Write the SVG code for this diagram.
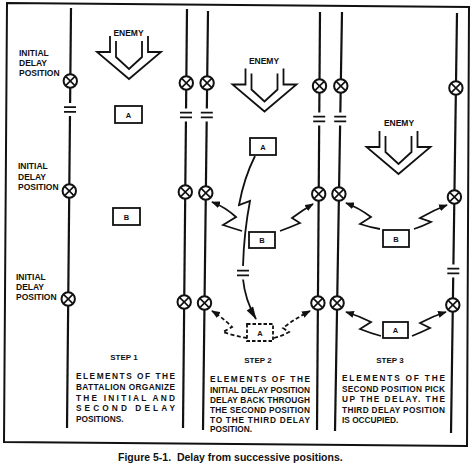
<svg xmlns="http://www.w3.org/2000/svg" width="474" height="469" viewBox="0 0 474 469">
<style>
.ln{stroke:#111;stroke-width:2.2;fill:none}
.fr{stroke:#111;stroke-width:2;fill:none}
.bolt{stroke:#111;stroke-width:1.8;fill:none;marker-end:url(#ah)}
.dash{stroke-dasharray:4 2.5}
.box{fill:#fff;stroke:#111;stroke-width:1.8}
.dbox{fill:#fff;stroke:#111;stroke-width:1.8;stroke-dasharray:3.5 2}
.en{fill:none;stroke:#111;stroke-width:1.8;stroke-linejoin:miter}
.t{font-family:"Liberation Sans",Arial,Helvetica,sans-serif;font-weight:bold;fill:#111}
.lab{font-size:8.5px}
.bx{font-size:7.5px;text-anchor:middle}
.st{font-size:8px;text-anchor:middle}
.p{font-size:8.3px}
.cap{font-size:10.5px}
</style>
<defs>
<marker id="ah" viewBox="0 0 10 8" refX="9" refY="4" markerWidth="9" markerHeight="7" orient="auto" markerUnits="userSpaceOnUse"><path d="M0,0 L10,4 L0,8 z" fill="#111"/></marker>
<marker id="ahL" viewBox="0 0 14 8" refX="13" refY="4" markerWidth="14" markerHeight="7.5" orient="auto" markerUnits="userSpaceOnUse"><path d="M0,0 L14,4 L0,8 z" fill="#111"/></marker>
<g id="xc"><circle r="6.7" fill="#fff" stroke="#111" stroke-width="2"/><path d="M-4.4,-4.4L4.4,4.4M-4.4,4.4L4.4,-4.4" stroke="#111" stroke-width="1.6"/></g>
<g id="brk"><rect x="-7" y="-6.5" width="14" height="13" fill="#fff"/><path d="M-6,-2.4H6M-6,2.4H6" stroke="#111" stroke-width="1.8"/></g>
<g id="enemy"><path class="en" d="M-19,-16V0H-32L0,27L32,0H19V-16"/><path class="en" d="M-13,-11V5L0,17L13,5V-11"/></g>
</defs>

<polygon class="fr" points="7,3 469,7 467,446 4,442"/>

<g id="line1"><line class="ln" x1="71" y1="8" x2="67" y2="428"/><use href="#brk" x="70" y="109.5"/><use href="#xc" x="70.3" y="81"/><use href="#xc" x="69.3" y="191"/><use href="#xc" x="68.2" y="299"/></g>
<g id="line2"><line class="ln" x1="187" y1="9" x2="183" y2="428"/><use href="#brk" x="186" y="115"/><use href="#xc" x="186.3" y="83"/><use href="#xc" x="185.3" y="192"/><use href="#xc" x="184.2" y="302"/></g>
<g id="line3"><line class="ln" x1="208" y1="11" x2="203" y2="430"/><use href="#brk" x="206.8" y="115"/><use href="#xc" x="207.1" y="83"/><use href="#xc" x="205.8" y="193"/><use href="#xc" x="204.5" y="303"/></g>
<g id="line4"><line class="ln" x1="320" y1="12" x2="317" y2="430"/><use href="#brk" x="319.2" y="119"/><use href="#xc" x="319.5" y="86"/><use href="#xc" x="318.7" y="194"/><use href="#xc" x="317.9" y="303"/></g>
<g id="line5"><line class="ln" x1="342" y1="12" x2="335" y2="431"/><use href="#brk" x="340.2" y="119"/><use href="#xc" x="340.8" y="86"/><use href="#xc" x="338.9" y="194"/><use href="#xc" x="337.1" y="303"/></g>
<g id="line6"><line class="ln" x1="457" y1="13" x2="451" y2="433"/><use href="#brk" x="453.3" y="271"/><use href="#xc" x="455.9" y="88"/><use href="#xc" x="454.4" y="197"/><use href="#xc" x="452.8" y="305"/></g>

<g id="labels">
<text class="t lab" x="19" y="55.5">INITIAL</text>
<text class="t lab" x="19" y="65.5">DELAY</text>
<text class="t lab" x="19" y="75.5">POSITION</text>
<text class="t lab" x="18" y="169">INITIAL</text>
<text class="t lab" x="18" y="179.5">DELAY</text>
<text class="t lab" x="18" y="190">POSITION</text>
<text class="t lab" x="16" y="280">INITIAL</text>
<text class="t lab" x="16" y="290">DELAY</text>
<text class="t lab" x="16" y="300">POSITION</text>
</g>

<g id="connectors">
<path class="bolt" style="marker-end:none" d="M255,156 Q244,178 239,205 L250,201 Q244,232 243,266"/>
<path class="bolt" style="marker-end:url(#ahL)" d="M243,279 Q245,300 256,319"/>
<use href="#brk" x="243" y="273"/>
<path class="bolt" d="M242,231 Q232,228 223,225 L236,217 Q225,207 212,202"/>
<path class="bolt" d="M280,231 Q291,227 300,223 L292,218 Q303,210 313,204"/>
<path class="bolt dash" d="M247,338 Q235,336 223,332 L232,327 Q222,317 212,311"/>
<path class="bolt dash" d="M274,338 Q282,336 289,332 L283,328 Q296,318 310,311"/>
<path class="bolt" d="M380,229 Q369,227 360,224 L371,217 Q359,208 346,203"/>
<path class="bolt" d="M414,229 Q423,226 431,222 L420,218 Q434,210 447,205"/>
<path class="bolt" d="M381,336 Q370,333 360,329 L371,322 Q359,316 346,312"/>
<path class="bolt" d="M412,336 Q422,332 430,328 L420,323 Q433,316 446,312"/>
</g>

<g id="enemy1"><text class="t bx" style="font-size:8.5px" x="128.5" y="36">ENEMY</text><use href="#enemy" x="129" y="52"/></g>
<g id="enemy2"><text class="t bx" style="font-size:8.5px" x="264" y="64">ENEMY</text><use href="#enemy" x="264.5" y="84.5"/></g>
<g id="enemy3"><text class="t bx" style="font-size:8.5px" x="399" y="126">ENEMY</text><use href="#enemy" x="398.5" y="147"/></g>

<g id="unitA1"><rect class="box" x="115" y="106" width="27" height="17"/><text class="t bx" x="128.5" y="117.5">A</text></g>
<g id="unitB1"><rect class="box" x="113" y="208" width="27" height="17"/><text class="t bx" x="126.5" y="219.5">B</text></g>
<g id="unitA2"><rect class="box" x="250" y="138" width="26" height="17"/><text class="t bx" x="263" y="149.5">A</text></g>
<g id="unitB2"><rect class="box" x="249" y="232" width="26" height="16"/><text class="t bx" x="262" y="243">B</text></g>
<g id="unitA2new"><rect class="dbox" x="247" y="324" width="26" height="17"/><text class="t bx" x="260" y="335.5">A</text></g>
<g id="unitB3"><rect class="box" x="383" y="230" width="26" height="17"/><text class="t bx" x="396" y="241.5">B</text></g>
<g id="unitA3"><rect class="box" x="383" y="322" width="25" height="16"/><text class="t bx" x="395.5" y="333">A</text></g>

<g id="step1">
<text class="t st" x="124" y="359.5">STEP 1</text>
<text class="t p" x="76" y="379" textLength="99" lengthAdjust="spacing">ELEMENTS OF THE</text>
<text class="t p" x="76" y="390" textLength="99" lengthAdjust="spacing">BATTALION ORGANIZE</text>
<text class="t p" x="76" y="400.5" textLength="99" lengthAdjust="spacing">THE INITIAL AND</text>
<text class="t p" x="76" y="411" textLength="99" lengthAdjust="spacing">SECOND DELAY</text>
<text class="t p" x="76" y="421.5">POSITIONS.</text>
</g>
<g id="step2">
<text class="t st" x="258" y="362.5">STEP 2</text>
<text class="t p" x="210" y="382" textLength="100" lengthAdjust="spacing">ELEMENTS OF THE</text>
<text class="t p" x="210" y="393" textLength="100" lengthAdjust="spacing">INITIAL DELAY POSITION</text>
<text class="t p" x="210" y="403" textLength="100" lengthAdjust="spacing">DELAY BACK THROUGH</text>
<text class="t p" x="210" y="412.5" textLength="100" lengthAdjust="spacing">THE SECOND POSITION</text>
<text class="t p" x="210" y="422.5" textLength="100" lengthAdjust="spacing">TO THE THIRD DELAY</text>
<text class="t p" x="210" y="432">POSITION.</text>
</g>
<g id="step3">
<text class="t st" x="390" y="362.5">STEP 3</text>
<text class="t p" x="342" y="380.5" textLength="103" lengthAdjust="spacing">ELEMENTS OF THE</text>
<text class="t p" x="342" y="391.5" textLength="103" lengthAdjust="spacing">SECOND POSITION PICK</text>
<text class="t p" x="342" y="402" textLength="103" lengthAdjust="spacing">UP THE DELAY. THE</text>
<text class="t p" x="342" y="412.5" textLength="103" lengthAdjust="spacing">THIRD DELAY POSITION</text>
<text class="t p" x="342" y="422.5">IS OCCUPIED.</text>
</g>

<text id="caption" class="t cap" x="118" y="461" xml:space="preserve">Figure 5-1.  Delay from successive positions.</text>
</svg>
